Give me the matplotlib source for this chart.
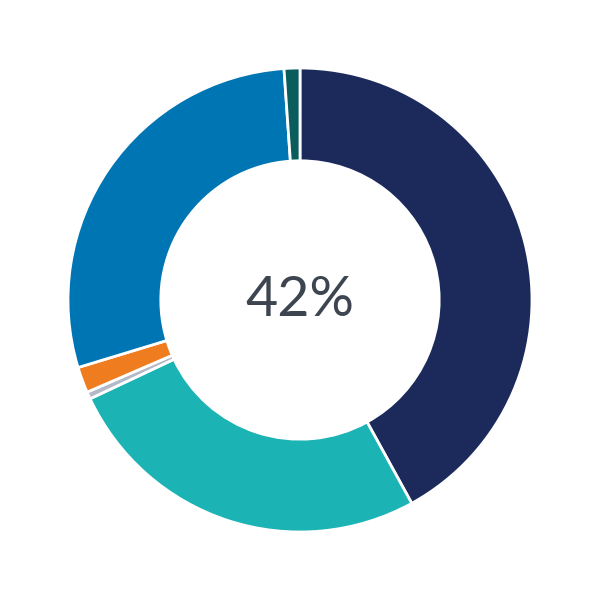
import matplotlib
matplotlib.use("Agg")
from matplotlib import pyplot as plt

labels = ["Navy", "Teal", "Gray", "Orange", "Blue", "Green"]
values = [42, 26, 0.5, 1.8, 28.6, 1.1]
colors = ["#1b2a5a", "#1bb3b4", "#b4b9c8", "#f07c20", "#0075b4", "#0b5c5c"]
center_text = "42%"

fig = plt.figure(figsize=(6, 6), dpi=100)
ax = fig.add_axes([0, 0, 1, 1])
ax.pie(values, colors=colors, startangle=90, counterclock=False,
       radius=1, wedgeprops=dict(width=0.4, edgecolor="white", linewidth=2))
ax.text(0, 0, center_text, ha="center", va="center", fontsize=40,
        color="#3d4550", family="Lato")
lim = 300 / 232
ax.set_xlim(-lim, lim)
ax.set_ylim(-lim, lim)
ax.set_aspect("equal")
ax.axis("off")
fig.savefig("out.png", dpi=100)
